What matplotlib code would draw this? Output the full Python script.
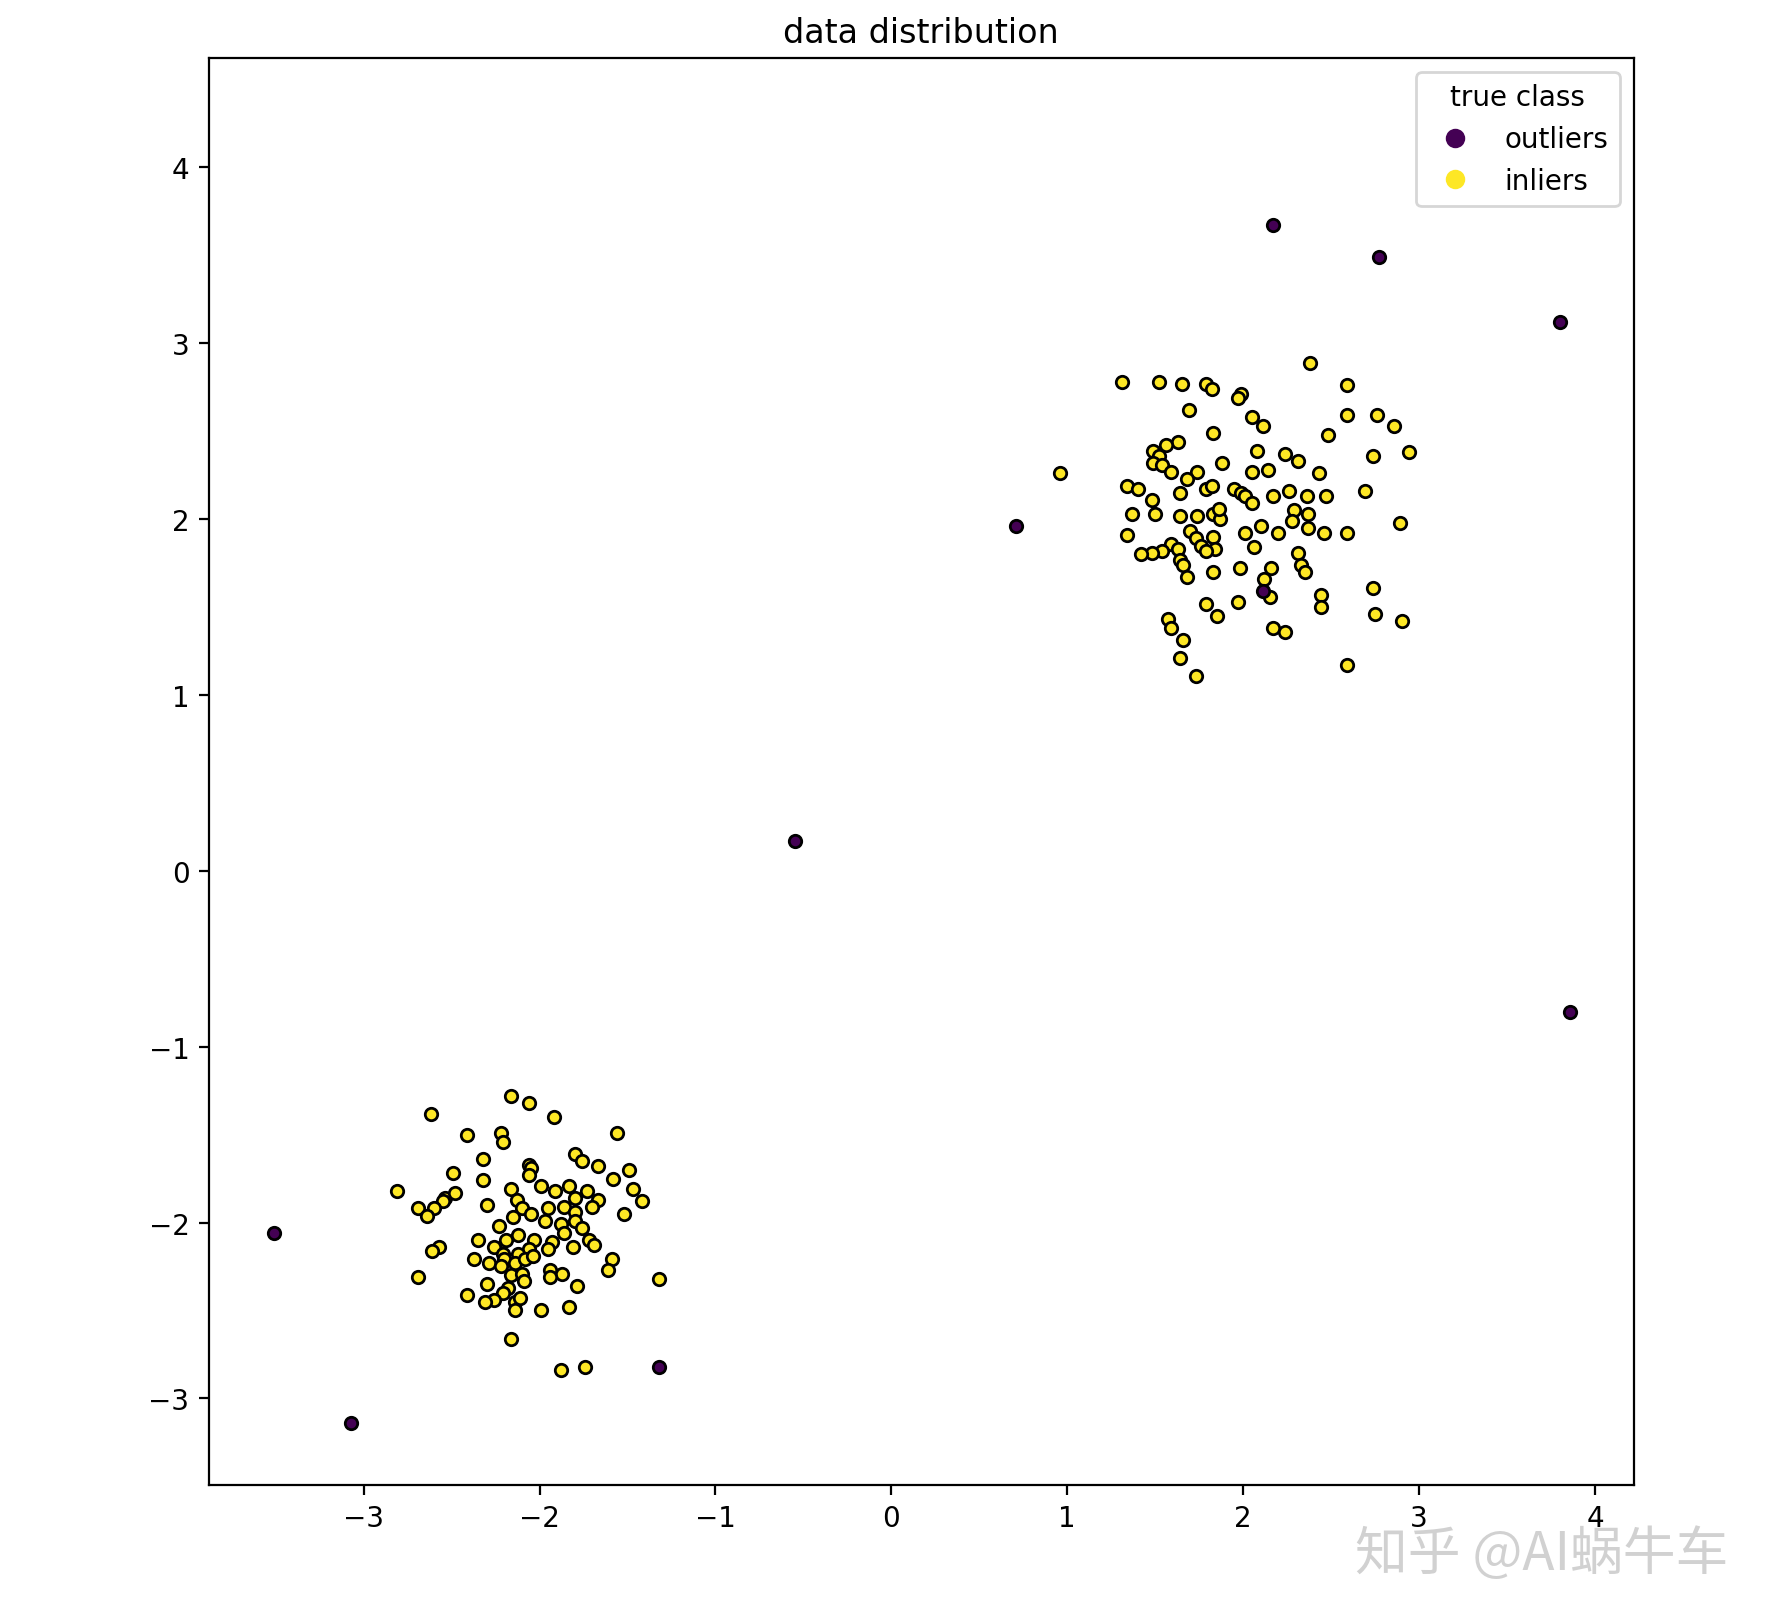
import matplotlib
matplotlib.use('Agg')
import matplotlib.pyplot as plt
from matplotlib.lines import Line2D
import numpy as np

# outliers
out_x = [2.17, 2.77, 3.80, 0.71, 2.11, -0.55, 3.86, -3.51, -1.32, -3.07]
out_y = [3.67, 3.49, 3.12, 1.96, 1.59, 0.17, -0.80, -2.06, -2.82, -3.14]

# inliers, upper cluster
up_x = [1.31, 1.52, 1.65, 1.79, 1.82, 1.99, 1.97, 2.59, 2.38, 1.69, 2.05, 2.11, 2.59, 2.76, 2.86,
        2.48, 1.83, 1.63, 1.56, 1.49, 1.52, 2.08, 2.24, 2.31, 2.94, 2.74, 1.49, 1.54, 1.59, 0.96,
        1.74, 1.88, 2.05, 2.14, 2.43, 1.68, 1.34, 1.40, 1.64, 1.79, 1.82, 1.95, 1.99, 2.01, 2.05,
        2.17, 2.26, 2.36, 2.47, 2.69, 1.48, 1.37, 1.50, 1.64, 1.74, 1.83, 1.87, 1.86, 2.29, 2.37,
        2.28, 2.37, 2.10, 2.01, 2.20, 2.46, 2.59, 2.89, 1.34, 1.70, 1.73, 1.83, 1.76, 1.84, 2.06,
        1.59, 1.63, 1.54, 1.48, 1.42, 1.79, 2.31, 1.64, 1.66, 1.83, 1.98, 2.16, 2.33, 2.35, 1.68,
        2.12, 2.74, 2.44, 2.15, 1.79, 1.97, 2.44, 2.75, 1.85, 2.90, 1.57, 1.59, 2.17, 2.24, 1.66,
        1.64, 2.59, 1.73]
up_y = [2.78, 2.78, 2.77, 2.77, 2.74, 2.71, 2.69, 2.76, 2.89, 2.62, 2.58, 2.53, 2.59, 2.59, 2.53,
        2.48, 2.49, 2.44, 2.42, 2.39, 2.36, 2.39, 2.37, 2.33, 2.38, 2.36, 2.32, 2.31, 2.27, 2.26,
        2.27, 2.32, 2.27, 2.28, 2.26, 2.23, 2.19, 2.17, 2.15, 2.17, 2.19, 2.17, 2.15, 2.13, 2.09,
        2.13, 2.16, 2.13, 2.13, 2.16, 2.11, 2.03, 2.03, 2.02, 2.02, 2.03, 2.00, 2.06, 2.05, 2.03,
        1.99, 1.95, 1.96, 1.92, 1.92, 1.92, 1.92, 1.98, 1.91, 1.93, 1.89, 1.90, 1.85, 1.83, 1.84,
        1.86, 1.83, 1.82, 1.81, 1.80, 1.82, 1.81, 1.77, 1.74, 1.70, 1.72, 1.72, 1.74, 1.70, 1.67,
        1.66, 1.61, 1.57, 1.56, 1.52, 1.53, 1.50, 1.46, 1.45, 1.42, 1.43, 1.38, 1.38, 1.36, 1.31,
        1.21, 1.17, 1.11]

# inliers, lower cluster
lo_x = [-2.16, -2.06, -2.62, -1.92, -2.41, -2.22, -2.21, -1.56, -1.80, -2.32, -2.06, -2.05, -1.76,
        -1.67, -1.49, -2.49, -2.32, -2.06, -1.58, -2.16, -1.99, -1.83, -2.81, -2.54, -2.48, -2.30,
        -2.13, -1.91, -1.80, -1.73, -1.67, -1.47, -2.55, -1.42, -2.60, -2.69, -2.64, -2.10, -2.05,
        -1.95, -1.86, -1.80, -1.70, -1.52, -2.23, -2.15, -1.97, -1.88, -1.80, -1.76, -2.19, -2.12,
        -2.03, -1.93, -1.86, -1.72, -2.26, -2.06, -1.95, -2.21, -2.12, -1.69, -2.57, -2.61, -2.35,
        -2.37, -2.29, -2.20, -2.14, -2.08, -2.04, -1.81, -1.59, -1.94, -1.87, -1.61, -2.22, -2.69,
        -2.16, -2.10, -2.30, -1.32, -1.94, -1.79, -2.18, -2.09, -2.41, -2.21, -2.26, -2.31, -2.14,
        -2.14, -1.99, -1.83, -2.11, -2.16, -1.88, -1.74]
lo_y = [-1.28, -1.32, -1.38, -1.40, -1.50, -1.49, -1.54, -1.49, -1.61, -1.64, -1.67, -1.69, -1.65,
        -1.68, -1.70, -1.72, -1.76, -1.73, -1.75, -1.81, -1.79, -1.79, -1.82, -1.86, -1.83, -1.90,
        -1.87, -1.82, -1.86, -1.82, -1.87, -1.81, -1.88, -1.88, -1.92, -1.92, -1.96, -1.92, -1.95,
        -1.92, -1.91, -1.94, -1.91, -1.95, -2.02, -1.97, -1.99, -2.01, -1.99, -2.03, -2.10, -2.07,
        -2.10, -2.11, -2.06, -2.10, -2.14, -2.15, -2.15, -2.18, -2.18, -2.13, -2.14, -2.16, -2.10,
        -2.21, -2.23, -2.21, -2.23, -2.21, -2.19, -2.14, -2.21, -2.27, -2.29, -2.27, -2.25, -2.31,
        -2.30, -2.29, -2.35, -2.32, -2.31, -2.36, -2.37, -2.33, -2.41, -2.40, -2.44, -2.45, -2.45,
        -2.50, -2.50, -2.48, -2.43, -2.66, -2.84, -2.82]

out_color = '#440154'
in_color = '#fde725'

fig = plt.figure(figsize=(8.85, 8.03), dpi=200)
ax = fig.add_axes([0.118, 0.075, 0.805, 0.888])

in_x = np.array(up_x + lo_x)
in_y = np.array(up_y + lo_y)
ax.scatter(in_x, in_y, s=20, c=in_color, edgecolor='k', zorder=2)
ax.scatter(out_x, out_y, s=20, c=out_color, edgecolor='k', zorder=2)

ax.set_xlim(-3.88, 4.22)
ax.set_ylim(-3.49, 4.62)
ax.set_title('data distribution')

handles = [Line2D([], [], marker='o', ls='', color=out_color, markersize=6),
           Line2D([], [], marker='o', ls='', color=in_color, markersize=6)]
ax.legend(handles, ['outliers', 'inliers'], title='true class', loc='upper right')

# watermark (overlaps the last tick labels, as in the original)
fig.text(0.871, 0.032, '知乎 @AI蜗牛车', fontsize=19, color='#cccccc', ha='center', va='center',
         family=['Noto Sans CJK SC', 'DejaVu Sans'], alpha=0.9)

fig.savefig('out.png')
